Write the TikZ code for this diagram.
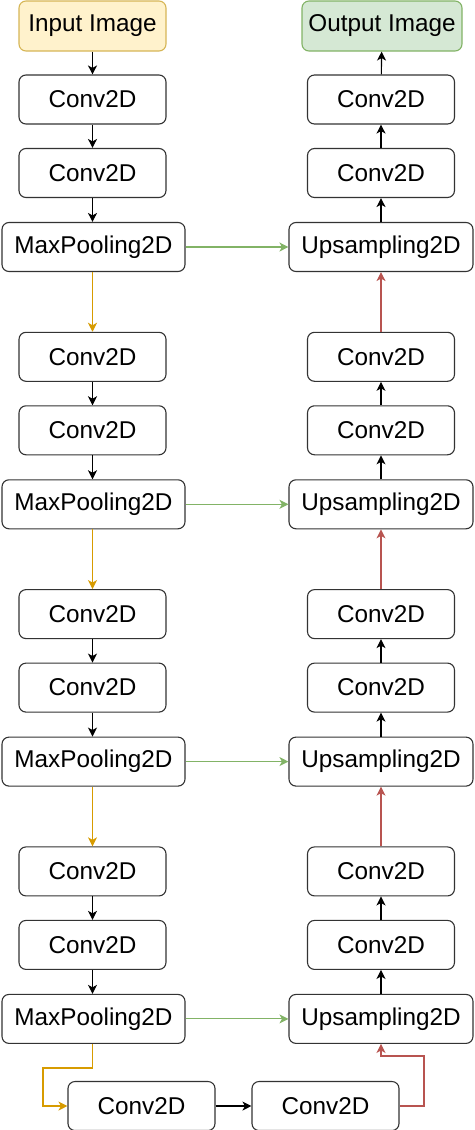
\documentclass[tikz,border=0pt]{standalone}
\usepackage{fontspec}
\setmainfont{Liberation Sans}
\usetikzlibrary{arrows.meta}
\definecolor{inFill}{HTML}{FFF2CC}
\definecolor{inLine}{HTML}{D6B656}
\definecolor{outFill}{HTML}{D5E8D4}
\definecolor{outLine}{HTML}{82B366}
\definecolor{skipC}{HTML}{82B366}
\definecolor{downC}{HTML}{D79B00}
\definecolor{upC}{HTML}{B85450}
\tikzset{
  blk/.style={draw=black!80, line width=1.1pt, rounded corners=7pt, fill=white,
    minimum height=49pt, inner sep=0pt, font=\fontsize{24.3}{29}\selectfont},
  cbox/.style={blk, minimum width=147pt},
  pbox/.style={blk, minimum width=183pt},
  ubox/.style={blk, minimum width=184pt},
  inbox/.style={blk, draw=inLine, fill=inFill, minimum width=147pt, minimum height=50pt},
  outbox/.style={blk, draw=outLine, fill=outFill, minimum width=160pt, minimum height=50pt},
  arr/.style={line width=1.1pt, -{Stealth[length=9pt,width=9pt,inset=2.5pt]}},
  blackarr/.style={arr, draw=black},
  skiparr/.style={arr, draw=skipC, color=skipC},
  downarr/.style={arr, draw=downC, color=downC},
  uparr/.style={arr, draw=upC, color=upC},
}
\begin{document}
\begin{tikzpicture}[x=1pt, y=-1pt]
\useasboundingbox (0,0) rectangle (474,1130);
\node[inbox] (in) at (92.5,26) {Input Image};
\node[outbox] (out) at (382,26) {Output Image};
% blocks
\foreach \k in {1,2,3,4} {
  \pgfmathsetmacro{\off}{257.3*(\k-1)}
  \node[cbox] (la\k) at (92.5,99.5+\off) {Conv2D};
  \node[cbox] (lb\k) at (92.5,173+\off) {Conv2D};
  \node[pbox] (lp\k) at (93.5,247+\off) {MaxPooling2D};
  \node[cbox] (ra\k) at (381,99.5+\off) {Conv2D};
  \node[cbox] (rb\k) at (381,173+\off) {Conv2D};
  \node[ubox] (ru\k) at (381,247+\off) {Upsampling2D};
}
\node[cbox] (bc1) at (141.5,1106) {Conv2D};
\node[cbox] (bc2) at (325.5,1106) {Conv2D};
% left column
\draw[blackarr] (in) -- (la1);
\foreach \k in {1,2,3,4} {
  \draw[blackarr] (la\k) -- (lb\k);
  \draw[blackarr] (lb\k.south) -- (lb\k.south |- lp\k.north);
  \draw[skiparr] (lp\k) -- (ru\k);
  \draw[blackarr] (rb\k) -- (ra\k);
  \draw[blackarr] (ru\k) -- (rb\k);
}
\draw[blackarr] (ra1) -- (out);
\draw[downarr] (lp1.south -| la2.north) -- (la2);
\draw[downarr] (lp2.south -| la3.north) -- (la3);
\draw[downarr] (lp3.south -| la4.north) -- (la4);
\draw[uparr] (ra2) -- (ru1);
\draw[uparr] (ra3) -- (ru2);
\draw[uparr] (ra4) -- (ru3);
% bottom
\coordinate (o1) at (92.5,1068);
\coordinate (o2) at (43,1068);
\coordinate (o3) at (43,1106);
\draw[downarr] (lp4.south -| o1) -- (o1) -- (o2) -- (o3) -- (bc1.west);
\draw[blackarr] (bc1) -- (bc2);
\coordinate (r1) at (424,1106);
\coordinate (r2) at (424,1056);
\coordinate (r3) at (381,1056);
\draw[uparr] (bc2.east) -- (r1) -- (r2) -- (r3) -- (ru4.south);
\end{tikzpicture}
\end{document}
